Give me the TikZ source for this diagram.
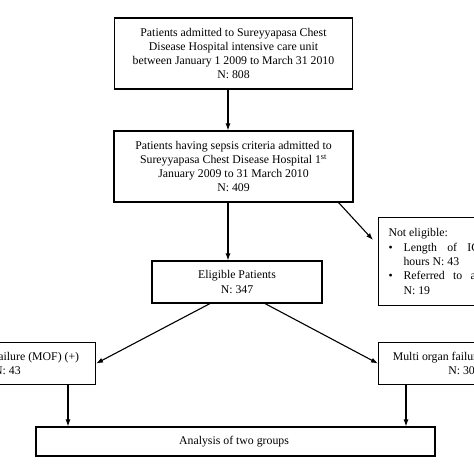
\documentclass[tikz,border=0pt]{standalone}
\usepackage{fontspec}
\setmainfont{Liberation Serif}
\usepackage{tikz}
\usetikzlibrary{positioning, calc, arrows.meta}
\tikzstyle{Arrow} = [
    line width = 1.1pt,
    -{Latex[length=7pt, width=5pt]}
]

\begin{document}
\begin{tikzpicture}[
x = 1pt, y = -1pt,
box/.style = {
    draw,
    line width = 1.1pt,
    align = center,
    inner sep = 0pt,
    font = \fontsize{11.8}{14.3}\selectfont
    }
]
\useasboundingbox (0,0) rectangle (474,474);
\clip (0,0) rectangle (474,474);

\node [box, minimum width = 238pt, minimum height = 71pt] (admitted) at (233.5,53.5) {
    Patients admitted to Sureyyapasa Chest\\
    Disease Hospital intensive care unit\\
    between January 1 2009 to March 31 2010\\
    N: 808
};
\node [box, minimum width = 239pt, minimum height = 71pt] (sepsis) at (233.5,166.5) {
    Patients having sepsis criteria admitted to\\
    Sureyyapasa Chest Disease Hospital 1\textsuperscript{st}\\
    January 2009 to 31 March 2010\\
    N: 409
};
\node [box, minimum width = 170pt, minimum height = 42pt] (eligible) at (237,282) {
    Eligible Patients\\
    N: 347
};
\node [box, anchor = north west, minimum width = 180pt, minimum height = 88pt,
    align = left, inner xsep = 10pt] (noteligible) at (378,217) {
    Not eligible:\\
    \makebox[15pt][l]{\textbullet}\makebox[155pt][s]{Length of ICU stay $<$ 24}\\
    \hspace*{15pt}hours N: 43\\
    \makebox[15pt][l]{\textbullet}\makebox[148pt][s]{Referred to another hospital}\\
    \hspace*{15pt}N: 19
};
\node [box, anchor = north east, minimum width = 176pt, minimum height = 42pt] (mofpos) at (96,342) {
    Multi organ failure (MOF) (+)\\
    N: 43
};
\node [box, anchor = north west, minimum width = 172pt, minimum height = 42pt] (mofneg) at (378,342) {
    Multi organ failure (MOF) (−)\\
    N: 304
};
\node [box, minimum width = 399pt, minimum height = 29pt] (analysis) at (235.5,441.5) {
    Analysis of two groups
};

\coordinate (spine) at (228,0);
\coordinate (posdown) at ($(mofpos.south east)+(-28,0)$);
\coordinate (negdown) at ($(mofneg.south west)+(28,0)$);

\draw [Arrow] (admitted.south -| spine) -- (sepsis.north -| spine);
\draw [Arrow] (sepsis.south -| spine) -- (eligible.north -| spine);
\draw [Arrow] ($(sepsis.south east)+(-15,0)$) -- ($(noteligible.north west)+(-5,23)$);

\draw [Arrow] ($(eligible.south)+(-27,0)$) -- (mofpos.east);
\draw [Arrow] ($(eligible.south)+(28,0)$) -- (mofneg.west);

\draw [Arrow] (posdown) -- (analysis.north -| posdown);
\draw [Arrow] (negdown) -- (analysis.north -| negdown);

\end{tikzpicture}
\end{document}
